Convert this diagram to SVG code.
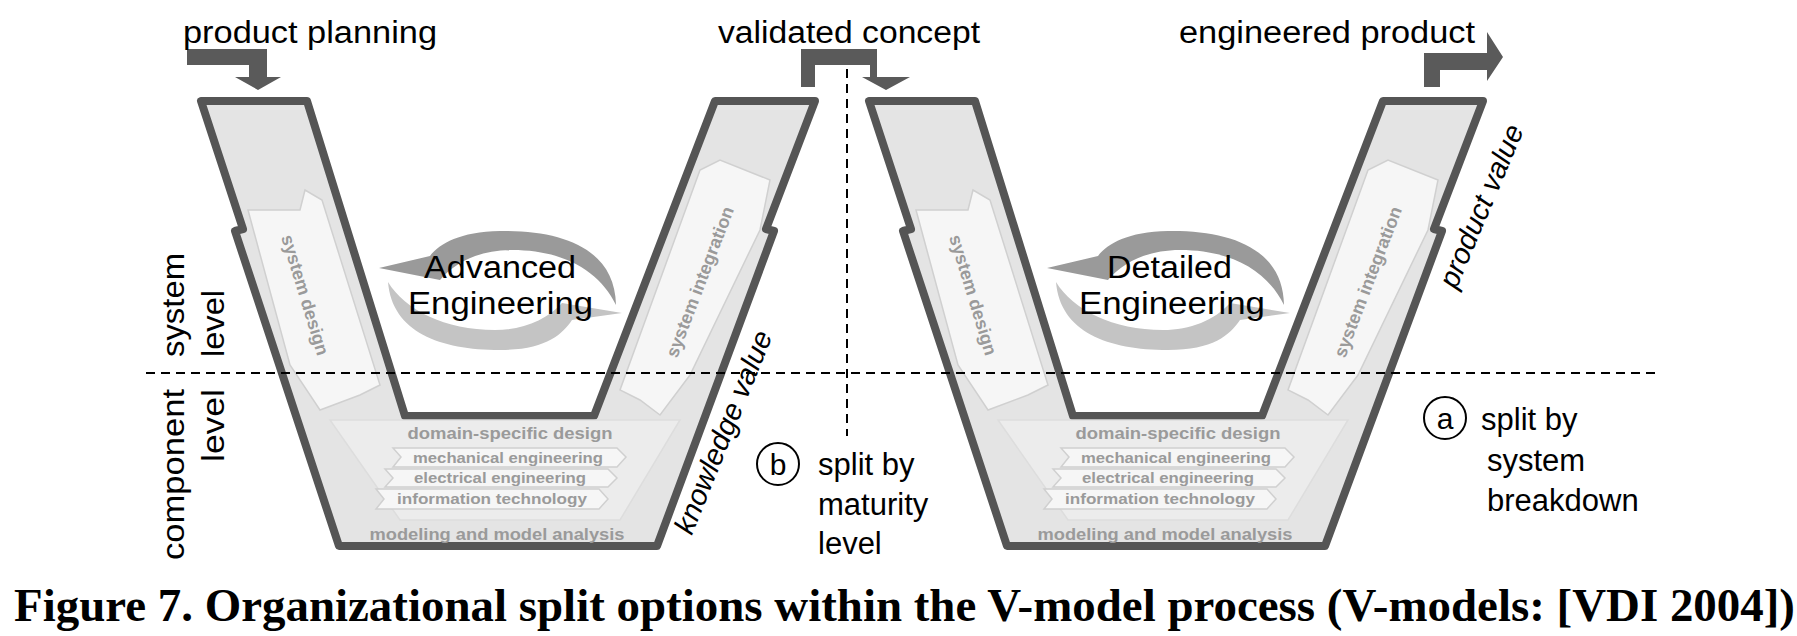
<svg xmlns="http://www.w3.org/2000/svg" width="1797" height="636" viewBox="0 0 1797 636">
<style>
.vs{fill:#e4e4e4;stroke:#555;stroke-width:8;stroke-linejoin:round}
.pan{fill:#f6f6f6;stroke:#d0d0d0;stroke-width:1.5}
.t{font-family:"Liberation Sans",Arial,sans-serif;fill:#000}
.g{font-family:"Liberation Sans",Arial,sans-serif;font-weight:bold;fill:#9a9a9a;font-size:16px;text-anchor:middle}
.ar{fill:#5a5a5a}
.dash{stroke:#000;stroke-width:2;stroke-dasharray:9 6;fill:none}
.sw1{fill:#9a9a9a}
.sw2{fill:#c4c4c4}
</style>
<defs>
<g id="vshape">
<polygon class="vs" points="201,101 307,101 405,416 594,416 715,101 815,101 766,229 774,231 657,546 339,546 235,231 243,229"/>
<polygon class="pan" points="248,210 300,210 305,190 322,200 380,385 360,395 320,410 290,365" />
<polygon class="pan" points="770,180 720,160 700,170 620,390 640,400 660,415 690,375 760,230"/>
<polygon class="pan" points="330,420 680,420 620,520 400,520" style="fill:#ececec;stroke:#ddd"/>
<polygon class="pan" points="393,448 617,448 626,457 617,467 393,467 401,457"/>
<polygon class="pan" points="385,469 608,469 617,478 608,487 385,487 393,478"/>
<polygon class="pan" points="376,489 599,489 608,499 599,509 376,509 384,499"/>
<text class="g" x="510" y="439" textLength="205" lengthAdjust="spacingAndGlyphs">domain-specific design</text>
<text class="g" x="508" y="463" style="font-size:14px" textLength="190" lengthAdjust="spacingAndGlyphs">mechanical engineering</text>
<text class="g" x="500" y="483" style="font-size:14px" textLength="172" lengthAdjust="spacingAndGlyphs">electrical engineering</text>
<text class="g" x="492" y="504" style="font-size:14px" textLength="190" lengthAdjust="spacingAndGlyphs">information technology</text>
<text class="g" x="497" y="540" textLength="255" lengthAdjust="spacingAndGlyphs">modeling and model analysis</text>
<text class="g" transform="translate(305,295) rotate(73)" y="6" style="font-size:18px">system design</text>
<text class="g" transform="translate(700,282) rotate(-69)" y="6" style="font-size:18px">system integration</text>
</g>
<g id="swirl">
<path class="sw1" d="M616,305 C615,250 565,230 500,231 C460,232 440,243 430,256 L379,268 L440,280 C455,262 480,250 512,250 C565,250 600,272 616,305 Z"/>
<path class="sw2" d="M388,282 C392,332 440,350 500,350 C545,350 562,335 572,320 L622,313 L562,303 C547,320 522,330 495,330 C445,330 405,310 388,282 Z"/>
</g>
</defs>
<g id="v-left"><use href="#vshape"/><use href="#swirl"/>
<text class="t" x="424" y="278" font-size="31" textLength="152" lengthAdjust="spacingAndGlyphs">Advanced</text>
<text class="t" x="408" y="314" font-size="31" textLength="185" lengthAdjust="spacingAndGlyphs">Engineering</text></g>
<g id="v-right"><use href="#vshape" transform="translate(668,0)"/><use href="#swirl" transform="translate(668,0)"/>
<text class="t" x="1107" y="278" font-size="31" textLength="125" lengthAdjust="spacingAndGlyphs">Detailed</text>
<text class="t" x="1079" y="314" font-size="31" textLength="186" lengthAdjust="spacingAndGlyphs">Engineering</text></g>
<g id="connectors">
<line class="dash" x1="146" y1="373" x2="1656" y2="373"/>
<line class="dash" x1="847" y1="69" x2="847" y2="436"/>
<path class="ar" d="M187,49 H267 V77 H281 L258,90 L235,77 H249 V65 H187 Z"/>
<path class="ar" d="M801,49 H877 V77 H910 L886,90 L862,77 H870 V65 H815 V87 H801 Z"/>
<path class="ar" d="M1424,87 V53 H1487 V32 L1503,57 L1487,81 V70 H1440 V87 Z"/>
</g>
<g id="labels">
<text class="t" x="183" y="43" font-size="31" textLength="254" lengthAdjust="spacingAndGlyphs">product planning</text>
<text class="t" x="718" y="43" font-size="31" textLength="262" lengthAdjust="spacingAndGlyphs">validated concept</text>
<text class="t" x="1179" y="43" font-size="31" textLength="296" lengthAdjust="spacingAndGlyphs">engineered product</text>
<text class="t" transform="translate(184,357) rotate(-90)" font-size="31" textLength="104" lengthAdjust="spacingAndGlyphs">system</text>
<text class="t" transform="translate(224,357) rotate(-90)" font-size="31" textLength="67" lengthAdjust="spacingAndGlyphs">level</text>
<text class="t" transform="translate(184,560) rotate(-90)" font-size="31" textLength="171" lengthAdjust="spacingAndGlyphs">component</text>
<text class="t" transform="translate(224,462) rotate(-90)" font-size="31" textLength="73" lengthAdjust="spacingAndGlyphs">level</text>
<text class="t" transform="translate(723,432) rotate(-68)" font-size="29" font-style="italic" text-anchor="middle" y="10">knowledge value</text>
<text class="t" transform="translate(1481,206) rotate(-67)" font-size="29" font-style="italic" text-anchor="middle" y="10">product value</text>
<circle cx="778" cy="464" r="21" fill="none" stroke="#000" stroke-width="2"/>
<text class="t" x="778" y="475" font-size="30" text-anchor="middle">b</text>
<text class="t" x="818" y="475" font-size="31">split by</text>
<text class="t" x="818" y="515" font-size="31">maturity</text>
<text class="t" x="818" y="554" font-size="31">level</text>
<circle cx="1445" cy="418" r="21" fill="none" stroke="#000" stroke-width="2"/>
<text class="t" x="1445" y="429" font-size="30" text-anchor="middle">a</text>
<text class="t" x="1481" y="430" font-size="31">split by</text>
<text class="t" x="1487" y="471" font-size="31">system</text>
<text class="t" x="1487" y="511" font-size="31">breakdown</text>
<text x="14" y="621" font-family="Liberation Serif,Times New Roman,serif" font-weight="bold" font-size="46" textLength="1781" lengthAdjust="spacingAndGlyphs">Figure 7. Organizational split options within the V-model process (V-models: [VDI 2004])</text>
</g>
</svg>
